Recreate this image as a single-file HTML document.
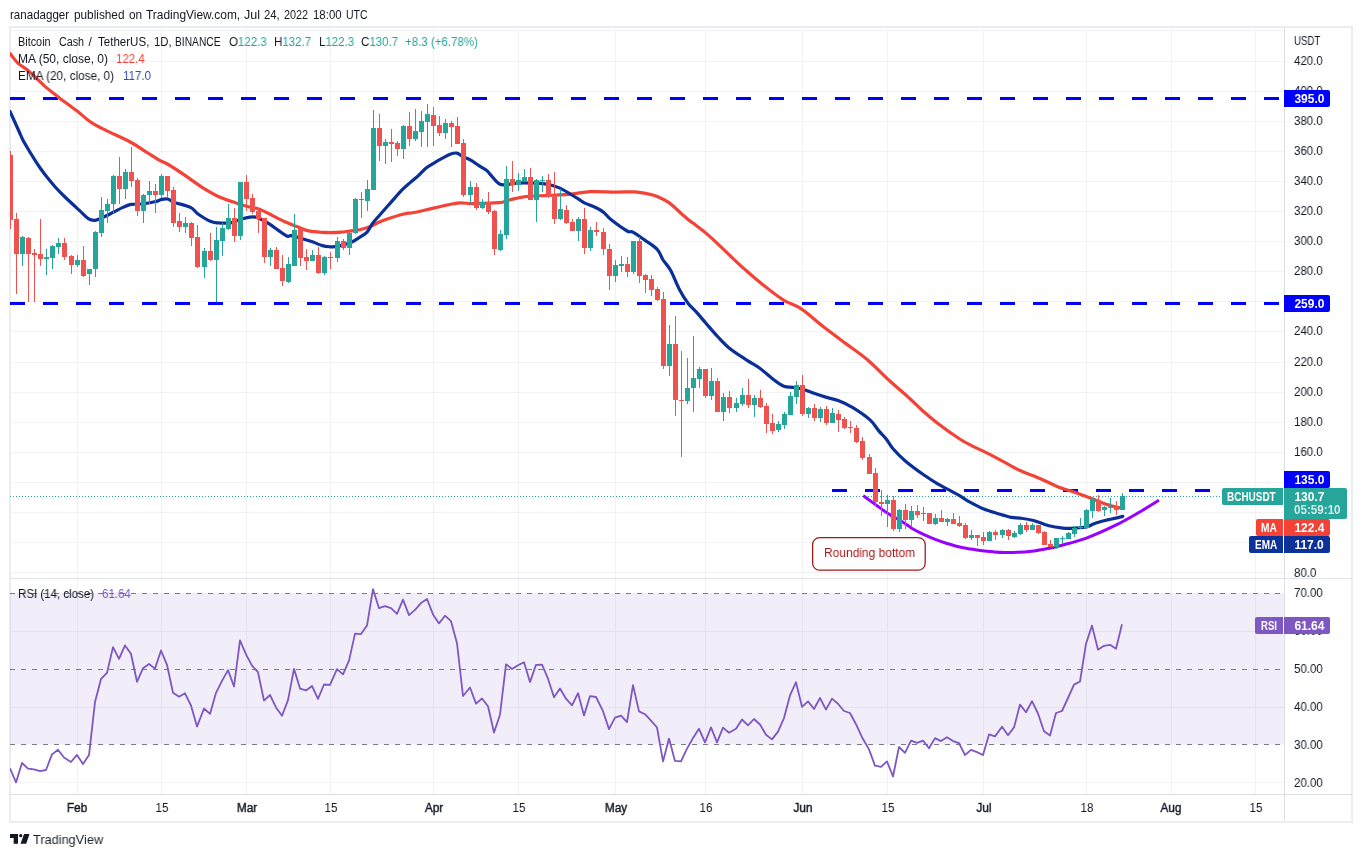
<!DOCTYPE html><html><head><meta charset="utf-8"><title>BCHUSDT chart</title><style>
html,body{margin:0;padding:0;background:#fff}
body{width:1362px;height:857px;position:relative;overflow:hidden;font-family:"Liberation Sans",sans-serif;color:#131722}
#hdr{position:absolute;left:0;top:7px;font-size:13px;line-height:16px;white-space:nowrap;color:#131722;height:16px;width:400px}
.hw,.lw{position:absolute;top:0;transform-origin:0 0;white-space:nowrap}
#l1{position:absolute;left:0;top:35px;font-size:12px;line-height:14px;height:14px;width:240px}
svg{position:absolute;left:0;top:0}
#hdr,#l1,.t,.ax,.tm,.lb,#tv{will-change:transform}
.t{position:absolute;white-space:nowrap;font-size:12px;line-height:14px;transform:scaleX(0.958);transform-origin:0 0}
.sx{display:inline-block;transform-origin:0 50%}
.ax{position:absolute;left:1294px;font-size:12px;line-height:14px;white-space:nowrap;transform:scaleX(0.958);transform-origin:0 0}
.tm{position:absolute;top:801px;width:60px;margin-left:-30px;text-align:center;font-size:12px;line-height:14px;transform:scaleX(0.958)}
.b{-webkit-text-stroke:0.4px #131722;transform:scaleX(0.98)}
.lb{position:absolute;height:17px;line-height:18.6px;font-size:12px;color:#fff;font-weight:bold;white-space:nowrap;box-sizing:border-box}
.lbv{left:1284px;width:46px;padding-left:10.4px;border-radius:0 2px 2px 0}
.lbn{text-align:center;border-radius:2px 0 0 2px}
.g{color:#26a69a}
#logo{position:absolute}
#tv{position:absolute;left:33px;top:832px;font-size:13px;line-height:16px;color:#1e222d;transform:scaleX(0.98);transform-origin:0 0}
</style></head><body>
<div id="hdr"><span class="hw" style="left:10.0px;transform:scaleX(0.889)">ranadagger</span><span class="hw" style="left:73.9px;transform:scaleX(0.907)">published</span><span class="hw" style="left:128.5px;transform:scaleX(0.912)">on</span><span class="hw" style="left:145.5px;transform:scaleX(0.918)">TradingView.com,</span><span class="hw" style="left:243.5px;transform:scaleX(0.962)">Jul</span><span class="hw" style="left:263.7px;transform:scaleX(0.868)">24,</span><span class="hw" style="left:284.1px;transform:scaleX(0.833)">2022</span><span class="hw" style="left:313.4px;transform:scaleX(0.879)">18:00</span><span class="hw" style="left:346.2px;transform:scaleX(0.812)">UTC</span></div>
<svg width="1362" height="857" viewBox="0 0 1362 857"><defs><clipPath id="mainclip"><rect x="10" y="27" width="1274" height="551"/></clipPath><clipPath id="rsiclip"><rect x="10" y="579" width="1274" height="215"/></clipPath></defs>
<rect x="10" y="27" width="1342" height="795" fill="none" stroke="#ebedf3" stroke-width="2"/>
<path d="M77.5 27V794M161.5 27V794M246.5 27V794M330.5 27V794M433.5 27V794M518.5 27V794M615.5 27V794M705.5 27V794M802.5 27V794M887.5 27V794M983.5 27V794M1086.5 27V794M1171.5 27V794M1255.5 27V794M10 30.5H1284M10 61.5H1284M10 91.5H1284M10 121.5H1284M10 151.5H1284M10 181.5H1284M10 211.5H1284M10 241.5H1284M10 271.5H1284M10 301.5H1284M10 331.5H1284M10 362.5H1284M10 392.5H1284M10 422.5H1284M10 452.5H1284M10 482.5H1284M10 512.5H1284M10 542.5H1284M10 572.5H1284M10 631.5H1284M10 707.5H1284M10 782.5H1284" stroke="#f0f2f3" stroke-width="1" fill="none"/>
<rect x="10" y="593" width="1274" height="151.5" fill="#7e57c2" fill-opacity="0.1"/>
<path d="M10 593.5H1281M10 669.5H1281M10 744.5H1281" stroke="#787b86" stroke-width="1" stroke-dasharray="5 6" fill="none"/>
<g clip-path="url(#mainclip)">
<path d="M10 496.5H1222" stroke="#26a69a" stroke-width="1" stroke-dasharray="1 2" fill="none"/>
<path d="M10 98.5H1284M10 303.5H1284" stroke="#0000ff" stroke-width="3" stroke-dasharray="15 18" fill="none"/>
<path d="M832 490.5H1284" stroke="#0000ff" stroke-width="3" stroke-dasharray="15 18" fill="none"/>
<path d="M863.2 495.6C864.3 496.4 867.9 499.1 870 500.6C872.1 502.1 872.6 502.6 875.6 504.7C878.6 506.8 883.5 510.7 887.9 513.5C892.3 516.3 898.3 519.2 902.3 521.7C906.3 524.2 908.2 526.1 911.7 528.2C915.2 530.3 919.6 532.5 923.5 534.4C927.4 536.3 931.3 537.9 935.2 539.4C939.1 540.9 943.1 542.3 947 543.5C950.9 544.7 954.8 545.9 958.7 546.8C962.6 547.7 966.6 548.4 970.5 549.1C974.4 549.8 978.3 550.3 982.2 550.8C986.1 551.3 990.1 551.6 994 551.9C997.9 552.2 1001.8 552.4 1005.7 552.5C1009.6 552.6 1013.6 552.5 1017.5 552.3C1021.4 552.1 1025.3 551.9 1029.2 551.5C1033.1 551.1 1037.1 550.4 1041 549.7C1044.9 549.1 1049.5 548.2 1052.7 547.6C1055.9 547 1054.4 547.4 1060 545.8C1065.6 544.2 1077.1 541.5 1086.4 538.1C1095.7 534.7 1106.9 529.5 1115.7 525.2C1124.5 520.9 1132 516.4 1139.2 512.3C1146.4 508.1 1155.7 502.3 1159 500.3" stroke="#9900ff" stroke-width="3" fill="none" stroke-linecap="butt"/>
<rect x="812.6" y="537.6" width="112.6" height="32.6" rx="7" ry="7" fill="#fff" stroke="#a11a1a" stroke-width="1.3"/>
<path d="M10 53.5C11.3 55 14.4 59.8 17.6 62.8C20.8 65.8 25 67.8 29.4 71.6C33.8 75.4 39.2 81.3 44.1 85.6C49 89.9 53.4 93.2 58.8 97.4C64.2 101.6 71.1 106.4 76.5 110.6C81.9 114.8 86.3 119.1 91.2 122.4C96.1 125.7 99.5 127.2 105.9 130.4C112.3 133.6 122.6 137.8 129.4 141.5C136.2 145.2 142.1 149.4 147 152.5C151.9 155.6 155 157.7 158.7 159.8C162.4 161.9 164.7 162.4 169.1 165C173.5 167.6 179.4 171.6 185 175.4C190.6 179.2 196.7 183.9 202.5 187.6C208.3 191.2 214.2 194.7 220 197.3C225.8 199.9 232.9 201.9 237.5 203.4C242.1 204.9 243.8 205.5 247.5 206.5C251.2 207.5 255.8 207.9 260 209.4C264.2 210.9 268.4 213.5 272.5 215.6C276.6 217.7 280.8 219.9 284.9 221.8C289 223.7 293.6 225.3 297.4 226.8C301.1 228.3 303.6 229.7 307.4 230.6C311.1 231.5 316.1 231.8 319.9 232.2C323.6 232.5 326.4 232.7 329.9 232.7C333.4 232.7 337.8 232.5 341.1 232.2C344.4 231.9 346.8 231.4 349.9 231C353 230.6 356.5 230.4 359.8 229.7C363.1 229 366.5 228.1 369.8 226.8C373.1 225.5 376.1 223.4 379.8 221.8C383.5 220.2 387.7 218.8 391.9 217.5C396.1 216.2 401.3 214.6 404.9 213.8C408.5 213 408.9 213.4 413.7 212.5C418.5 211.6 426.3 209.7 433.6 208.1C440.9 206.5 450.8 203.8 457.4 203.1C464 202.4 466.4 203.8 473.3 203.7C480.2 203.6 493 203.3 499 202.7C505 202.1 505.2 201 509.4 200C513.6 199 517.5 197.6 524.1 196.8C530.7 196 541.2 195.8 549.1 195.3C557 194.9 564.3 194.7 571.2 194.1C578.1 193.5 582.9 191.9 590.3 191.6C597.6 191.3 607.9 192 615.3 192.1C622.6 192.2 628.8 191.6 634.4 191.9C640 192.2 645.2 193.3 649.1 194.1C653 194.9 654.6 195.4 657.9 196.8C661.2 198.2 665.1 199.8 669 202.6C672.9 205.4 678 210.6 681.5 213.7C685 216.8 687.5 219.1 690 221.1C692.5 223.1 692.9 222.8 696.2 225.4C699.5 228 704.4 231.6 710 236.6C715.6 241.6 724 249.9 729.9 255.5C735.8 261.1 740.2 265.3 745.4 269.9C750.6 274.5 754.7 278.2 761 283.2C767.3 288.2 776.5 295.6 783.1 299.8C789.8 304.1 794.2 304.2 800.9 308.7C807.6 313.1 815.7 320.8 823.1 326.5C830.5 332.2 837.8 337.6 845.2 343.1C852.6 348.6 860 353.4 867.4 359.7C874.8 366 882.5 374.3 889.6 380.8C896.7 387.3 904.2 393.5 909.7 398.5C915.2 403.5 918.2 406.9 922.9 411C927.5 415.1 931.5 418.5 937.6 423.2C943.7 427.9 953.8 435.1 959.7 439C965.6 442.9 968.5 444 972.9 446.3C977.3 448.6 981.1 450 986.2 452.6C991.4 455.2 998.4 458.9 1003.8 461.8C1009.2 464.7 1012.9 467.3 1018.8 470C1024.7 472.7 1033 475.5 1039.4 478.2C1045.8 480.9 1051.1 484 1057 486.4C1062.9 488.8 1068.7 490.2 1074.6 492.3C1080.5 494.4 1087.3 496.9 1092.2 498.8C1097.1 500.7 1100.1 502.1 1104 503.5C1107.9 504.9 1113.2 506.3 1115.7 507C1118.2 507.7 1118.7 507.5 1119.3 507.6" stroke="#f44336" stroke-width="3.2" fill="none" stroke-linejoin="round" stroke-linecap="round"/>
<path d="M10 111.5C11.5 114.8 17 126.8 19.1 131.5C21.2 136.2 21.1 136.6 22.9 140C24.7 143.4 27.8 148.5 29.8 151.8C31.8 155.1 33 157.1 34.8 159.9C36.6 162.7 38.5 165.7 40.5 168.5C42.5 171.3 44.3 173.8 46.7 176.8C49.1 179.8 51.9 183.2 55 186.7C58.1 190.1 61.4 193.6 65.5 197.5C69.6 201.4 75.6 206.9 79.4 210.4C83.2 213.9 85.7 217 88.3 218.7C90.9 220.3 92.7 220.5 95.2 220.3C97.7 220.1 100.2 218.6 103.2 217.3C106.2 216 109.8 214 113.1 212.3C116.4 210.7 120 208.7 123 207.4C126 206.1 127.7 205 131 204.4C134.3 203.8 138.9 204.2 142.9 203.8C146.9 203.4 151.7 202.5 154.8 201.8C157.9 201.1 159.5 199.9 161.7 199.4C163.8 198.9 165.5 198.5 167.7 199C169.8 199.5 170.8 201 174.6 202.4C178.4 203.8 186.5 205.4 190.5 207.4C194.5 209.4 195.1 212 198.4 214.3C201.7 216.6 207 219.9 210.3 221.3C213.6 222.7 215 222.6 218.3 222.9C221.6 223.2 226.9 223.3 230.2 222.9C233.5 222.5 235.5 221.1 238.1 220.3C240.7 219.5 243.4 218.5 246 217.9C248.6 217.3 251.4 216.8 253.7 216.9C256 217 257.3 217.5 260 218.7C262.7 219.9 266.9 222.3 270 224.3C273.1 226.3 275.8 228.6 278.7 230.6C281.6 232.6 285.3 235.4 287.4 236.2C289.5 237 288.7 235.2 291.2 235.6C293.7 236 298.9 237.7 302.4 238.7C305.9 239.7 309.1 240.7 312.4 241.8C315.7 243 319.5 244.8 322.4 245.6C325.3 246.4 327.8 246.6 329.9 246.8C332 247 332.6 246.9 334.9 246.6C337.2 246.3 340.7 245.7 343.6 244.9C346.5 244.1 349.7 243.1 352.4 241.8C355.1 240.5 357.3 238.9 359.8 237.2C362.3 235.5 365.2 234.1 367.3 231.8C369.4 229.6 370.2 226.5 372.3 223.7C374.4 220.9 377.1 218.1 379.8 215C382.5 211.9 384.9 209.1 388.6 205C392.3 200.9 398.3 193.8 401.8 190.2C405.3 186.5 406.9 185.4 409.6 183.1C412.3 180.8 415.1 178.7 417.8 176.2C420.6 173.7 423.4 170.2 426.1 168C428.9 165.8 431.6 164.4 434.3 162.8C437 161.2 439.8 159.6 442.5 158.2C445.2 156.8 448.3 154.9 450.7 154.1C453.1 153.2 454.8 152.7 456.9 153.1C459 153.5 460.9 155.6 463.1 156.7C465.3 157.8 467.7 158.4 470.3 159.8C472.9 161.2 475.8 163.6 478.5 165.4C481.2 167.2 484.8 169.1 486.7 170.5C488.6 171.9 487.8 171.8 490 174.1C492.2 176.4 496.5 182.7 500 184.3C503.5 185.9 507.2 184.2 511 183.9C514.8 183.7 517 182.8 522.6 182.8C528.2 182.8 538.6 183 544.7 183.8C550.8 184.7 554 185.5 559.4 187.9C564.8 190.3 572.9 195.7 577.1 198.2C581.3 200.7 581.2 201.3 584.4 202.9C587.6 204.5 593 206.2 596.2 207.8C599.4 209.4 601 210.2 603.5 212.2C606 214.2 607 216.5 610.9 219.6C614.8 222.7 623.4 228.9 627.1 231C630.8 233.1 630 230.6 632.9 232.1C635.8 233.6 640.7 237.2 644.7 240.1C648.8 243 654.1 246.1 657.2 249.4C660.3 252.7 660.9 256.5 663.1 260C665.3 263.5 667.9 265.4 670.6 270.3C673.3 275.2 676.5 283.9 679.4 289.4C682.3 294.9 685.2 299.5 688.2 303.4C691.2 307.3 694.2 309.6 697.1 312.9C700 316.2 702.5 319.3 705.9 323.2C709.3 327.1 713.7 332.3 717.6 336.5C721.5 340.7 724.5 344.2 729.4 348.2C734.3 352.2 742.1 357 747.1 360.3C752.1 363.6 755.2 364.9 759.5 368C763.8 371.1 768.8 375.9 772.8 379C776.8 382.1 780.5 384.9 783.8 386.3C787.1 387.7 789.4 386.9 792.6 387.4C795.8 387.9 799.7 388.4 802.9 389.3C806.1 390.2 807.9 391.2 811.8 392.6C815.7 394 822.1 396.1 826.5 397.4C830.9 398.7 833.9 398.9 838.2 400.6C842.5 402.3 847.1 404.2 852.4 407.4C857.7 410.6 865.6 416 870 419.9C874.4 423.8 876.1 427.7 878.8 430.9C881.5 434.1 883.8 435.9 886.2 439C888.7 442.1 890.3 445.6 893.5 449.3C896.7 453 900.4 456.8 905.3 461C910.2 465.2 917.5 470.5 922.9 474.3C928.3 478.1 931.7 480.4 937.6 483.8C943.5 487.2 952.8 491.8 958.2 494.9C963.6 498 965.8 499.9 970 502.2C974.2 504.5 978.8 507 983.2 508.8C987.6 510.6 991.8 511.8 996.5 513.2C1001.2 514.6 1007.3 516.6 1011.2 517.4C1015.1 518.2 1016.4 517.6 1020.1 518.1C1023.8 518.6 1028.7 519.2 1033.5 520.5C1038.3 521.8 1043.9 524.5 1048.8 525.8C1053.7 527.1 1058.6 527.7 1062.9 528.1C1067.2 528.5 1070.7 528.3 1074.6 528.1C1078.5 527.9 1083.1 527.8 1086.4 527C1089.7 526.2 1091.1 524.7 1094.6 523.5C1098.1 522.3 1103.6 520.9 1107.5 519.9C1111.4 518.9 1115.5 518.2 1118.1 517.6C1120.6 517 1122 516.6 1122.8 516.4" stroke="#0b2f99" stroke-width="3.2" fill="none" stroke-linejoin="round" stroke-linecap="round"/>
<path d="M22.5 236V266M46.5 249V275M52.5 245V269M58.5 238V254M77.5 255V267M89.5 269V285M95.5 231V277M101.5 197V237M107.5 199V223M113.5 175V213M125.5 169V199M143.5 194V223M149.5 181V204M161.5 174V198M185.5 217V233M204.5 248V278M216.5 227V302M222.5 223V256M228.5 204V230M240.5 182V240M270.5 248V266M288.5 257V283M294.5 214V266M312.5 250V261M324.5 256V275M337.5 237V262M349.5 231V255M355.5 198V234M367.5 180V211M373.5 110V190M385.5 139V164M403.5 125V159M415.5 109V141M421.5 111V147M427.5 104V147M445.5 119V139M470.5 181V203M482.5 199V209M500.5 230V251M506.5 166V239M518.5 173V191M524.5 169V182M536.5 179V222M542.5 176V192M560.5 189V220M578.5 217V241M590.5 227V251M615.5 260V282M621.5 256V272M633.5 241V274M669.5 325V376M687.5 358V404M693.5 336V412M699.5 367V388M711.5 368V400M723.5 393V421M736.5 398V412M742.5 388V406M754.5 395V417M778.5 421V432M784.5 412V429M790.5 392V415M796.5 381V404M808.5 407V418M820.5 407V422M832.5 408V423M887.5 495V527M899.5 509V532M911.5 506V526M923.5 507V521M935.5 514V525M947.5 518V526M971.5 530V540M989.5 531V541M1002.5 529V538M1014.5 531V538M1020.5 523V535M1032.5 523V530M1056.5 538V549M1062.5 536V544M1068.5 532V539M1074.5 526V537M1080.5 518V529M1086.5 509V528M1092.5 498V518M1104.5 506V516M1110.5 498V513M1122.5 493V510" stroke="#26a69a" stroke-width="1" fill="none" shape-rendering="crispEdges"/>
<path d="M10.5 151V229M16.5 213V294M28.5 237V302M34.5 249V302M40.5 219V266M64.5 238V260M71.5 255V274M83.5 246V277M119.5 157V204M131.5 147V187M137.5 178V216M155.5 184V213M167.5 176V197M173.5 187V227M179.5 213V232M191.5 222V246M197.5 225V268M210.5 233V261M234.5 208V242M246.5 175V211M252.5 194V214M258.5 208V233M264.5 218V263M276.5 247V269M282.5 255V286M300.5 228V266M306.5 249V270M318.5 247V274M330.5 252V269M343.5 239V250M361.5 192V218M379.5 114V161M391.5 129V162M397.5 141V156M409.5 112V146M433.5 107V146M439.5 116V136M451.5 121V147M457.5 117V144M463.5 139V197M476.5 183V210M488.5 192V214M494.5 210V255M512.5 161V192M530.5 168V200M548.5 174V198M554.5 172V224M566.5 205V224M572.5 219V231M584.5 208V254M596.5 222V236M603.5 228V255M609.5 244V290M627.5 257V277M639.5 237V283M645.5 274V293M651.5 275V296M657.5 287V301M663.5 292V369M675.5 316V416M681.5 351V457M705.5 369V398M717.5 378V412M729.5 391V413M748.5 379V408M760.5 390V408M766.5 403V433M772.5 414V434M802.5 375V416M814.5 404V421M826.5 406V425M838.5 410V432M844.5 417V429M850.5 421V433M856.5 425V443M862.5 437V460M869.5 454V474M875.5 468V506M881.5 490V516M893.5 496V531M905.5 504V529M917.5 505V518M929.5 513V524M941.5 510V522M953.5 513V524M959.5 516V527M965.5 523V539M977.5 535V546M983.5 532V545M995.5 530V540M1008.5 529V540M1026.5 522V532M1038.5 525V534M1044.5 531V545M1050.5 540V547M1098.5 495V512M1116.5 501V515" stroke="#ef5350" stroke-width="1" fill="none" shape-rendering="crispEdges"/>
<path d="M20 237h5v17h-5zM44 257h5v2h-5zM50 246h5v12h-5zM56 243h5v4h-5zM75 260h5v5h-5zM87 269h5v5h-5zM93 232h5v37h-5zM99 210h5v23h-5zM105 204h5v7h-5zM111 176h5v28h-5zM123 172h5v17h-5zM141 195h5v16h-5zM147 191h5v4h-5zM159 176h5v19h-5zM183 223h5v4h-5zM202 251h5v16h-5zM214 240h5v20h-5zM220 228h5v13h-5zM226 218h5v11h-5zM238 182h5v54h-5zM268 250h5v7h-5zM286 264h5v18h-5zM292 230h5v36h-5zM310 255h5v6h-5zM322 257h5v16h-5zM335 241h5v17h-5zM347 233h5v15h-5zM353 199h5v34h-5zM365 189h5v12h-5zM371 128h5v62h-5zM383 142h5v4h-5zM401 126h5v23h-5zM413 131h5v8h-5zM419 121h5v11h-5zM425 114h5v8h-5zM443 123h5v10h-5zM468 187h5v8h-5zM480 202h5v6h-5zM498 234h5v16h-5zM504 179h5v56h-5zM516 180h5v5h-5zM522 177h5v4h-5zM534 180h5v20h-5zM540 180h5v1h-5zM558 209h5v10h-5zM576 219h5v12h-5zM588 230h5v18h-5zM613 265h5v11h-5zM619 264h5v2h-5zM631 241h5v31h-5zM667 344h5v22h-5zM685 388h5v13h-5zM691 378h5v10h-5zM697 369h5v10h-5zM709 381h5v15h-5zM721 397h5v15h-5zM734 403h5v5h-5zM740 395h5v9h-5zM752 398h5v7h-5zM776 424h5v6h-5zM782 414h5v11h-5zM788 396h5v19h-5zM794 385h5v12h-5zM806 408h5v6h-5zM818 409h5v9h-5zM830 413h5v10h-5zM885 500h5v4h-5zM897 510h5v19h-5zM909 511h5v9h-5zM921 513h5v1h-5zM933 518h5v6h-5zM945 519h5v3h-5zM969 535h5v3h-5zM987 532h5v9h-5zM1000 530h5v5h-5zM1012 533h5v4h-5zM1018 525h5v9h-5zM1030 525h5v5h-5zM1054 538h5v9h-5zM1060 538h5v1h-5zM1066 533h5v6h-5zM1072 528h5v6h-5zM1078 527h5v1h-5zM1084 510h5v18h-5zM1090 500h5v11h-5zM1102 507h5v3h-5zM1108 507h5v1h-5zM1120 496h5v14h-5z" fill="#26a69a" shape-rendering="crispEdges"/>
<path d="M8 155h5v65h-5zM14 219h5v35h-5zM26 238h5v16h-5zM32 253h5v2h-5zM38 254h5v5h-5zM62 243h5v14h-5zM69 256h5v9h-5zM81 260h5v16h-5zM117 176h5v13h-5zM129 172h5v9h-5zM135 180h5v31h-5zM153 191h5v4h-5zM165 176h5v15h-5zM171 190h5v33h-5zM177 221h5v6h-5zM189 223h5v15h-5zM195 237h5v30h-5zM208 251h5v9h-5zM232 218h5v18h-5zM244 182h5v17h-5zM250 198h5v14h-5zM256 211h5v8h-5zM262 218h5v39h-5zM274 250h5v19h-5zM280 268h5v13h-5zM298 229h5v29h-5zM304 257h5v4h-5zM316 255h5v18h-5zM328 257h5v1h-5zM341 241h5v7h-5zM359 199h5v1h-5zM377 128h5v18h-5zM389 142h5v2h-5zM395 143h5v6h-5zM407 126h5v13h-5zM431 115h5v11h-5zM437 125h5v8h-5zM449 123h5v4h-5zM455 126h5v18h-5zM461 143h5v52h-5zM474 187h5v21h-5zM486 202h5v10h-5zM492 211h5v38h-5zM510 179h5v6h-5zM528 177h5v23h-5zM546 180h5v17h-5zM552 195h5v24h-5zM564 210h5v13h-5zM570 222h5v9h-5zM582 219h5v29h-5zM594 230h5v2h-5zM601 232h5v17h-5zM607 249h5v27h-5zM625 264h5v8h-5zM637 241h5v35h-5zM643 275h5v5h-5zM649 279h5v11h-5zM655 289h5v11h-5zM661 299h5v67h-5zM673 344h5v56h-5zM679 400h5v1h-5zM703 369h5v27h-5zM715 381h5v31h-5zM727 397h5v11h-5zM746 395h5v10h-5zM758 398h5v9h-5zM764 406h5v18h-5zM770 423h5v8h-5zM800 385h5v29h-5zM812 408h5v10h-5zM824 409h5v14h-5zM836 414h5v6h-5zM842 419h5v9h-5zM848 427h5v1h-5zM854 428h5v14h-5zM860 441h5v17h-5zM867 457h5v17h-5zM873 473h5v29h-5zM879 502h5v2h-5zM891 500h5v29h-5zM903 510h5v10h-5zM915 511h5v4h-5zM927 513h5v11h-5zM939 518h5v4h-5zM951 519h5v5h-5zM957 523h5v3h-5zM963 525h5v13h-5zM975 535h5v3h-5zM981 537h5v4h-5zM993 532h5v3h-5zM1006 530h5v6h-5zM1024 525h5v5h-5zM1036 525h5v8h-5zM1042 532h5v13h-5zM1048 544h5v3h-5zM1096 500h5v11h-5zM1114 507h5v3h-5z" fill="#ef5350" shape-rendering="crispEdges"/>
</g>
<g clip-path="url(#rsiclip)"><path d="M10 768.3L16 782.4L22 763L28 768.7L34 769.4L40 771.1L46 770L52 754.4L58 749.8L64 757.5L71 762L77 754.9L83 764L89 755.1L95 702.1L101 678.9L107 672.8L113 647.1L119 658.9L125 645.4L131 653.8L137 681.8L143 668.2L149 664L155 668.6L161 650.5L167 664.8L173 692.8L179 696.7L185 693.3L191 705.5L197 726.6L204 708.5L210 713.9L216 692.8L222 680.9L228 670.1L234 686.5L240 640.3L246 654.4L252 665.7L258 672.2L264 700.6L270 695L276 707.4L282 715.8L288 700.1L294 668.8L300 688.6L306 690.4L312 686L318 698.9L324 684.5L330 684.8L337 669.1L343 674.4L349 660.6L355 633.6L361 634.1L367 625.6L373 589.2L379 608.2L385 606.2L391 608.2L397 613.8L403 599.7L409 615.1L415 609.9L421 603.1L427 599L433 614.4L439 623.4L445 615.7L451 621.2L457 643.2L463 696L470 687.5L476 703.6L482 698.5L488 706.3L494 732.5L500 714.7L506 664.3L512 669L518 665.2L524 662.3L530 682.1L536 664.8L542 664.6L548 678.7L554 697.3L560 688.5L566 698.7L572 705.3L578 693.1L584 715.4L590 696.1L596 697L603 711.2L609 729.1L615 717.6L621 715.6L627 722.2L633 685.1L639 711.4L645 714.2L651 720.6L657 727.5L663 761.4L669 738.6L675 760.9L681 761.4L687 748.6L693 738.1L699 728.8L705 742.3L711 727.4L717 742.3L723 727.6L729 732.7L736 728.8L742 719.5L748 725.4L754 719L760 724.5L766 734.7L772 739.4L778 731.6L784 718.1L790 695.4L796 682.2L802 706.8L808 701.4L814 709L820 698L826 709.6L832 698.6L838 703.7L844 711L850 713L856 724.2L862 737.2L869 749.4L875 765.7L881 766.8L887 761.4L893 776.5L899 747L905 752.8L911 740.6L917 742.8L923 740.6L929 748.2L935 738.1L941 741.1L947 737.2L953 741.1L959 743.2L965 755L971 749.9L977 752.1L983 755L989 734.4L995 736.4L1002 726.7L1008 735.2L1014 727.4L1020 704.6L1026 712.2L1032 701.2L1038 713.5L1044 731.3L1050 735.5L1056 713L1062 711L1068 698L1074 684.6L1080 681.5L1086 643.7L1092 625.6L1098 649.7L1104 645.8L1110 644.8L1116 648.7L1122 624.2" stroke="#7e57c2" stroke-width="1.8" fill="none" stroke-linejoin="round"/></g>
<path d="M10 578.5H1352" stroke="#e0e3eb" stroke-width="1" fill="none"/><path d="M10 794.5H1352" stroke="#dcdee2" stroke-width="1" fill="none"/><path d="M1284.5 27V821" stroke="#dcdee2" stroke-width="1" fill="none"/>
</svg>
<div id="l1"><span class="lw" style="left:18.1px;transform:scaleX(0.905)">Bitcoin</span><span class="lw" style="left:58.7px;transform:scaleX(0.896)">Cash</span><span class="lw" style="left:88.5px;transform:scaleX(1.000)">/</span><span class="lw" style="left:98.0px;transform:scaleX(0.963)">TetherUS,</span><span class="lw" style="left:153.6px;transform:scaleX(0.947)">1D,</span><span class="lw" style="left:175.1px;transform:scaleX(0.853)">BINANCE</span></div>
<div class="t" style="left:228.6px;top:35px">O<span class="g">122.3</span></div>
<div class="t" style="left:273.5px;top:35px">H<span class="g">132.7</span></div>
<div class="t" style="left:318.6px;top:35px">L<span class="g">122.3</span></div>
<div class="t" style="left:360.9px;top:35px">C<span class="g">130.7</span></div>
<div class="t g" style="left:405px;top:35px">+8.3 (+6.78%)</div>
<div class="t" style="left:17.8px;top:52px;transform:scaleX(0.995)">MA (50, close, 0)</div><div class="t" style="left:116.2px;top:52px;color:#f44336">122.4</div>
<div class="t" style="left:18.2px;top:69px;transform:scaleX(0.98)">EMA (20, close, 0)</div><div class="t" style="left:122.5px;top:69px;color:#2a4bb0">117.0</div>
<div class="t" style="left:17.6px;top:586.5px">RSI (14, close)</div><div class="t" style="left:101.8px;top:586.5px;color:#7e57c2">61.64</div>
<div class="t" style="left:823.6px;top:546px;color:#a11a1a;font-size:12.5px">Rounding bottom</div>
<div class="ax" style="top:33.5px"><span class="sx" style="transform:scaleX(0.84)">USDT</span></div>
<div class="ax" style="top:54px">420.0</div>
<div class="ax" style="top:84px">400.0</div>
<div class="ax" style="top:114px">380.0</div>
<div class="ax" style="top:144px">360.0</div>
<div class="ax" style="top:174px">340.0</div>
<div class="ax" style="top:204px">320.0</div>
<div class="ax" style="top:234px">300.0</div>
<div class="ax" style="top:264px">280.0</div>
<div class="ax" style="top:324px">240.0</div>
<div class="ax" style="top:355px">220.0</div>
<div class="ax" style="top:385px">200.0</div>
<div class="ax" style="top:415px">180.0</div>
<div class="ax" style="top:445px">160.0</div>
<div class="ax" style="top:565.6px">80.0</div>
<div class="ax" style="top:586px">70.00</div>
<div class="ax" style="top:624px">60.00</div>
<div class="ax" style="top:662px">50.00</div>
<div class="ax" style="top:700px">40.00</div>
<div class="ax" style="top:738px">30.00</div>
<div class="ax" style="top:776px">20.00</div>
<div class="lb lbv" style="top:90px;background:#0000ff">395.0</div>
<div class="lb lbv" style="top:295px;background:#0000ff">259.0</div>
<div class="lb lbv" style="top:471px;background:#0000ff">135.0</div>
<div class="lb lbn" style="left:1222px;width:61px;top:488px;background:#26a69a;text-align:left;padding-left:5.3px"><span class="sx" id="bch" style="transform:scaleX(0.83)">BCHUSDT</span></div>
<div class="lb lbv" style="top:488px;height:31px;width:63px;background:#26a69a;line-height:13.5px;padding-top:2.8px">130.7<br><span class="sx" style="color:#d0ebe8;transform:scaleX(0.97)">05:59:10</span></div>
<div class="lb lbn" style="left:1256px;width:27px;top:519px;background:#f44336;text-align:left;padding-left:5.2px"><span class="sx" style="transform:scaleX(0.85)">MA</span></div>
<div class="lb lbv" style="top:519px;background:#f44336">122.4</div>
<div class="lb lbn" style="left:1249px;width:34px;top:536px;background:#0c3299;text-align:left;padding-left:5.8px"><span class="sx" style="transform:scaleX(0.83)">EMA</span></div>
<div class="lb lbv" style="top:536px;background:#0c3299">117.0</div>
<div class="lb lbn" style="left:1255px;width:28px;top:617px;background:#7e57c2;text-align:left;padding-left:5.9px"><span class="sx" style="transform:scaleX(0.8)">RSI</span></div>
<div class="lb lbv" style="top:617px;background:#7e57c2">61.64</div>
<div class="tm b" style="left:77.0px">Feb</div>
<div class="tm" style="left:161.5px">15</div>
<div class="tm b" style="left:246.5px">Mar</div>
<div class="tm" style="left:330.5px">15</div>
<div class="tm b" style="left:433.5px">Apr</div>
<div class="tm" style="left:518.5px">15</div>
<div class="tm b" style="left:615.5px">May</div>
<div class="tm" style="left:705.5px">16</div>
<div class="tm b" style="left:802.5px">Jun</div>
<div class="tm" style="left:887.5px">15</div>
<div class="tm b" style="left:983.5px">Jul</div>
<div class="tm" style="left:1086.5px">18</div>
<div class="tm b" style="left:1171.0px">Aug</div>
<div class="tm" style="left:1255.5px">15</div>
<svg id="logo" style="left:10px;top:834.2px" width="19.5" height="9.75" viewBox="0 0 36 18"><path fill="#131722" d="M14.8 18H6.8V7.2H0V0h14.8v18zM19.4 18h10.5L36 0H26z"/><circle cx="19.8" cy="3.2" r="3" fill="#131722"/></svg>
<div id="tv">TradingView</div>
</body></html>
